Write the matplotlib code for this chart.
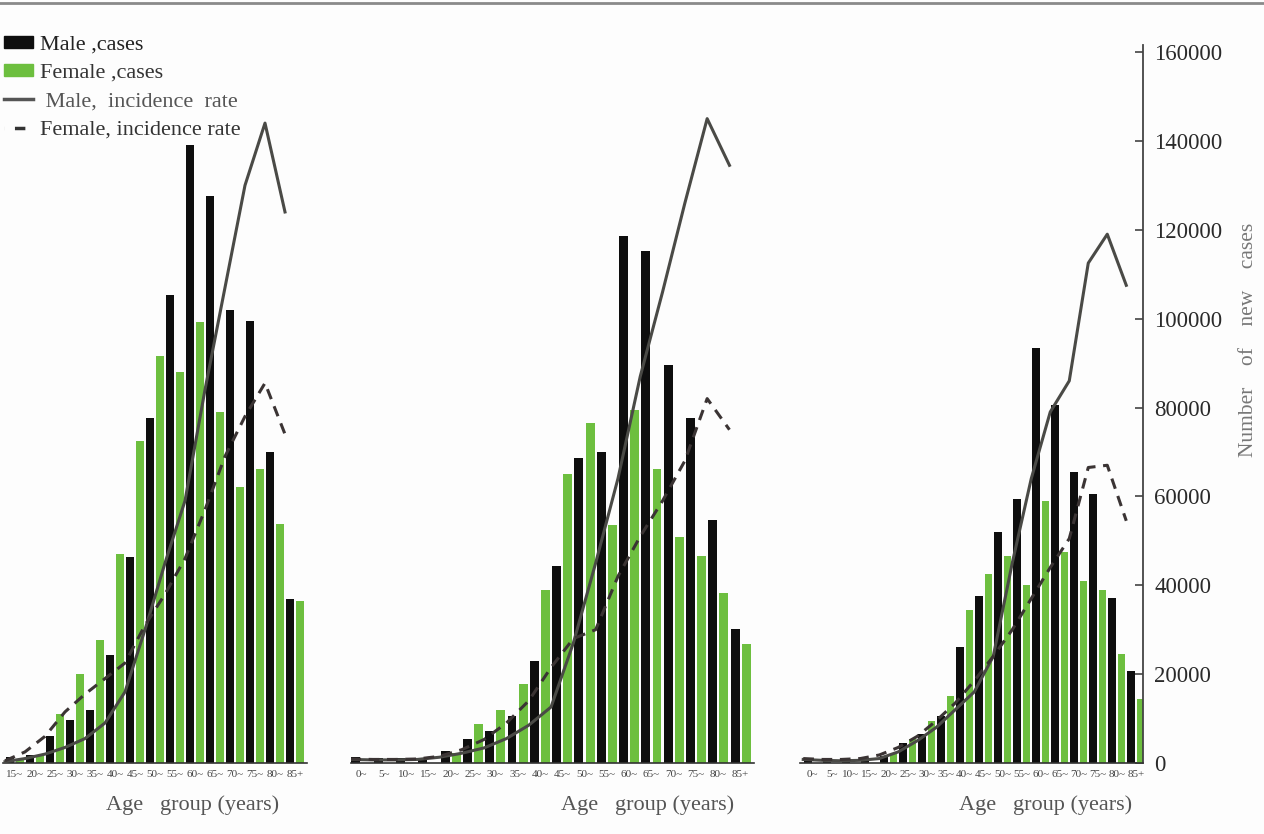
import matplotlib
matplotlib.use("Agg")
import matplotlib.pyplot as plt
import numpy as np
from matplotlib.patches import Patch
from matplotlib.lines import Line2D

plt.rcParams['font.family'] = ['Liberation Serif', 'DejaVu Serif']

# --- data -----------------------------------------------------------------
ages_short = ["15~", "20~", "25~", "30~", "35~", "40~", "45~", "50~", "55~",
              "60~", "65~", "70~", "75~", "80~", "85+"]
ages_full = ["0~", "5~", "10~", "15~", "20~", "25~", "30~", "35~", "40~", "45~",
             "50~", "55~", "60~", "65~", "70~", "75~", "80~", "85+"]

# panel 1
male_cases_1 = [1300, 1800, 6000, 9700, 12000, 24300, 46300, 77600, 105300,
                139000, 127600, 102000, 99400, 70000, 36900]
female_cases_1 = [700, 1500, 11000, 20000, 27700, 47000, 72500, 91600, 88000,
                  99200, 79000, 62100, 66200, 53800, 36500]
male_rate_1 = [0.3, 1.0, 2.0, 3.5, 5.5, 9.0, 16.0, 30.0, 45.0, 59.0, 84.0,
               107.0, 130.0, 144.0, 124.0]
female_rate_1 = [0.5, 2.5, 6.0, 11.5, 15.5, 19.0, 22.5, 31.0, 38.0, 46.0,
                 57.0, 69.0, 78.0, 85.5, 74.0]

# panel 2
male_cases_2 = [1300, 1100, 1100, 1100, 2600, 5500, 7200, 10500, 23000, 44300,
                68700, 69900, 118500, 115300, 89600, 77600, 54600, 30200]
female_cases_2 = [0, 0, 0, 0, 2300, 8800, 12000, 17700, 39000, 65100, 76600,
                  53600, 79500, 66100, 50800, 46600, 38300, 26800]
male_rate_2 = [0.8, 0.7, 0.7, 0.8, 1.3, 2.2, 3.4, 5.5, 8.5, 12.6, 27.0, 45.0,
               64.0, 87.0, 106.0, 126.0, 145.0, 134.5]
female_rate_2 = [0.9, 0.8, 0.8, 0.9, 1.5, 3.0, 5.3, 9.0, 14.0, 21.5, 28.0,
                 30.0, 42.0, 51.0, 59.0, 68.0, 82.0, 75.0]

# panel 3
male_cases_3 = [1200, 700, 600, 700, 1500, 4500, 6500, 10500, 26000, 37500,
                52000, 59500, 93500, 80500, 65500, 60500, 37200, 20800]
female_cases_3 = [0, 0, 0, 0, 2000, 5500, 9500, 15000, 34500, 42500, 46500,
                  40000, 59000, 47500, 41000, 39000, 24500, 14500]
male_rate_3 = [0.8, 0.6, 0.5, 0.6, 1.0, 2.5, 5.0, 8.0, 12.0, 16.0, 24.0, 45.0,
               64.0, 79.0, 86.0, 112.5, 119.0, 107.5]
female_rate_3 = [1.0, 0.8, 0.8, 1.0, 1.8, 3.5, 6.0, 9.5, 13.5, 18.5, 24.0,
                 30.0, 37.0, 44.0, 50.5, 66.5, 67.0, 54.5]

y_ticks = [0, 20000, 40000, 60000, 80000, 100000, 120000, 140000, 160000]

BLACK = "#0e0e0e"
GREEN = "#6dbf3f"
MALE_LINE = "#4a4a46"
FEMALE_LINE = "#3b3434"
SERIF = ['Liberation Serif', 'DejaVu Serif']

W, H = 1264, 834
fig = plt.figure(figsize=(W / 100, H / 100), dpi=100)
fig.patch.set_facecolor("#fdfdfd")


def px_axes(x0, x1, y0=52, y1=763):
    return fig.add_axes([x0 / W, (H - y1) / H, (x1 - x0) / W, (y1 - y0) / H])


def draw_panel(ax, labels, male, female, mrate, frate, xlim, width, label_x):
    x = np.arange(len(labels))
    ax.bar(x - 0.25, male, width=width, color=BLACK, zorder=2)
    ax.bar(x + 0.25, female, width=width, color=GREEN, zorder=2)
    ax.set_xlim(*xlim)
    ax.set_ylim(0, 160000)
    ax.set_xticks(x)
    ax.set_xticklabels(labels, fontsize=8, color="#444444")
    ax.tick_params(axis="x", length=0, pad=5)
    ax.set_yticks([])
    ax.set_facecolor("none")
    for s in ["top", "left", "right"]:
        ax.spines[s].set_visible(False)
    ax.spines["bottom"].set_color("#333333")
    ax.spines["bottom"].set_linewidth(1.2)

    # incidence rates on a hidden secondary scale
    tw = ax.twinx()
    tw.plot(x - 0.5, mrate, color=MALE_LINE, lw=2.2, zorder=3)
    tw.plot(x - 0.5, frate, color=FEMALE_LINE, lw=2.2, ls=(0, (3.5, 2.5)), zorder=3)
    tw.set_ylim(0, 160)
    tw.set_xlim(*xlim)
    tw.axis("off")

    fig.text(label_x / W, (H - 805) / H, "Age   group (years)", ha="center",
             va="center", fontsize=16, color="#555555", family=SERIF)


ax1 = px_axes(3, 307)
draw_panel(ax1, ages_short, male_cases_1, female_cases_1, male_rate_1,
           female_rate_1, (-0.6, 14.6), 0.38, 193)

ax2 = px_axes(351, 754)
draw_panel(ax2, ages_full, male_cases_2, female_cases_2, male_rate_2,
           female_rate_2, (-0.47, 17.6), 0.4, 648)

ax3 = px_axes(800, 1143)
draw_panel(ax3, ages_full, male_cases_3, female_cases_3, male_rate_3,
           female_rate_3, (-0.67, 17.38), 0.4, 1046)

# right-hand count axis on the last panel
ax3.spines["right"].set_visible(True)
ax3.spines["right"].set_color("#444444")
ax3.spines["right"].set_linewidth(1.3)
ax3.spines["right"].set_bounds(0, 161500)
ax3.yaxis.tick_right()
ax3.set_yticks(y_ticks)
ax3.set_yticklabels([str(v) for v in y_ticks], fontsize=16.5)
ax3.tick_params(axis="y", direction="in", length=6, width=1.2, pad=8,
                colors="#444444", labelcolor="#2a2a2a")
ax3.yaxis.set_label_position("right")
ax3.set_ylabel("Number    of    new    cases", fontsize=15.5, color="#777777",
               rotation=90)
ax3.yaxis.set_label_coords(1.28, 0.595)

# legend
handles = [
    Patch(facecolor=BLACK, edgecolor=BLACK),
    Patch(facecolor=GREEN, edgecolor=GREEN),
    Line2D([0], [0], color="#555555", lw=2.5),
    Line2D([0], [0], color="#333333", lw=2.5, ls=(0, (0.01, 3, 3, 10))),
]
labels = ["Male ,cases", "Female ,cases", " Male,  incidence  rate",
          "Female, incidence rate"]
leg = fig.legend(handles, labels, loc="upper left",
                 bbox_to_anchor=(0.0, (H - 31) / H), frameon=False,
                 handlelength=1.3, handleheight=0.45,
                 handletextpad=0.3, labelspacing=0.42, borderaxespad=0,
                 borderpad=0.2, prop={'family': SERIF, 'size': 16})
for t, c in zip(leg.get_texts(), ["#222222", "#333333", "#555555", "#333333"]):
    t.set_color(c)

# thin grey rule along the top edge
fig.add_artist(Line2D([0, 1], [1 - 2.5 / H, 1 - 2.5 / H], color="#8a8a8a",
                      lw=2, transform=fig.transFigure))

fig.savefig("out.png", dpi=100, facecolor=fig.get_facecolor())
